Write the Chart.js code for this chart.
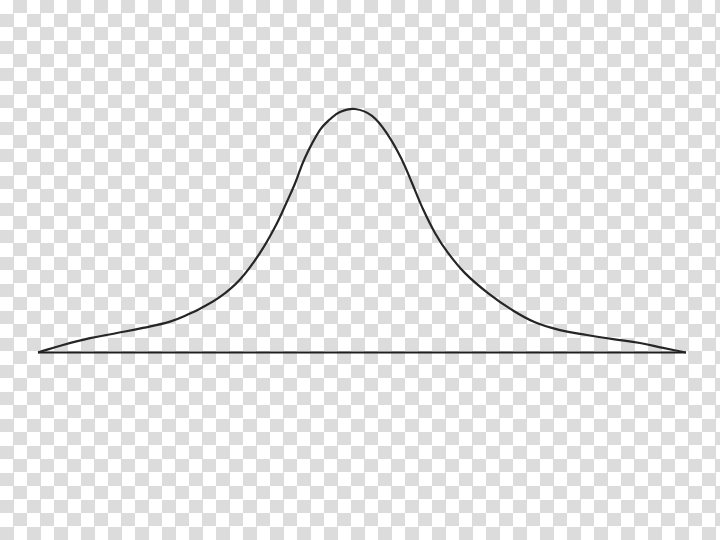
<!DOCTYPE html>
<html>
<head>
<meta charset="utf-8">
<title>Bell curve</title>
<script src="https://cdn.jsdelivr.net/npm/chart.js@4.4.1/dist/chart.umd.min.js"></script>
<style>
  html, body {
    margin: 0;
    padding: 0;
  }
  body {
    width: 720px;
    height: 540px;
    overflow: hidden;
    /* transparency checkerboard */
    background: repeating-conic-gradient(#dcdcdc 0 25%, #ffffff 0 50%) 0 0 / 27px 27px;
  }
  canvas {
    display: block;
  }
</style>
</head>
<body>
<canvas id="curve" width="720" height="540"></canvas>
<script>
// curve readings: position (in spreads from centre) and height (peak = 1)
const curveX = [-3.24, -2.99, -2.72, -2.45, -2.19, -1.92, -1.72, -1.62, -1.42, -1.22,
  -1.02, -0.87, -0.75, -0.67, -0.57, -0.42, -0.32, -0.22, -0.07, 0.10,
  0.26, 0.40, 0.50, 0.60, 0.73, 0.86, 1.03, 1.26, 1.50, 1.73,
  1.98, 2.25, 2.51, 2.78, 3.01, 3.24];
const curveY = [0, 0.031, 0.059, 0.080, 0.101, 0.127, 0.160, 0.180, 0.228, 0.300,
  0.409, 0.515, 0.620, 0.694, 0.800, 0.914, 0.958, 0.988, 1.000, 0.972,
  0.893, 0.791, 0.696, 0.598, 0.491, 0.409, 0.326, 0.244, 0.175, 0.124,
  0.092, 0.072, 0.055, 0.039, 0.019, 0];

// horizontal axis line under the curve
const baseX = [-3.24, 3.24];
const baseY = [0, 0];

const toPoints = (xs, ys) => xs.map((x, i) => ({ x: x, y: ys[i] }));

new Chart(document.getElementById("curve").getContext("2d"), {
  type: "line",
  data: {
    datasets: [
      {
        label: "curve",
        data: toPoints(curveX, curveY),
        borderColor: "#262626",
        borderWidth: 2.2,
        pointRadius: 0,
        fill: false,
        tension: 0.4,
      },
      {
        label: "base",
        data: toPoints(baseX, baseY),
        borderColor: "#1e1e1e",
        borderWidth: 2.2,
        pointRadius: 0,
        fill: false,
      },
    ],
  },
  options: {
    responsive: false,
    animation: false,
    devicePixelRatio: 1,
    layout: { padding: 0 },
    plugins: {
      legend: { display: false },
      tooltip: { enabled: false },
    },
    scales: {
      x: { type: "linear", display: false, min: -3.62, max: 3.58 },
      y: { display: false, min: -0.770, max: 1.4476 },
    },
  },
});
</script>
</body>
</html>
